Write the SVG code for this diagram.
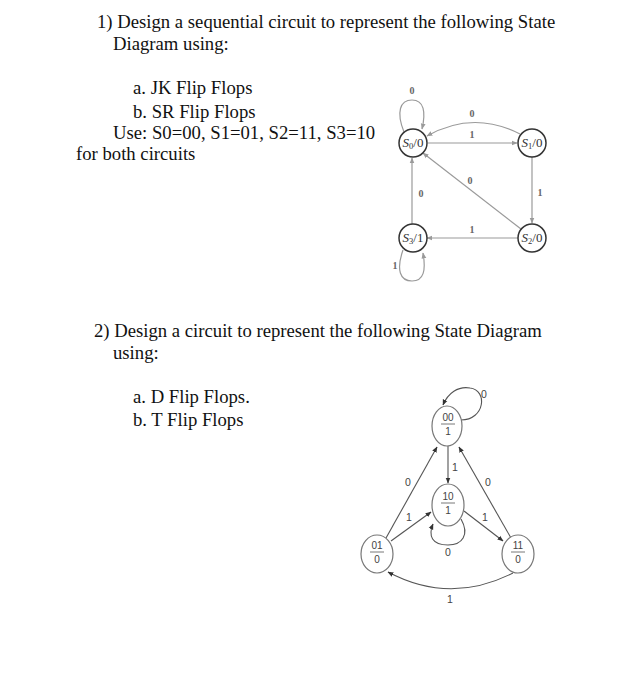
<svg xmlns="http://www.w3.org/2000/svg" width="618" height="700" viewBox="0 0 618 700">
<defs>
<style>
.t{font-family:"Liberation Serif","Times New Roman",serif;font-size:18.7px;fill:#111}
.l1{font-family:"Liberation Serif","Times New Roman",serif;font-size:10px;font-weight:bold;fill:#666;text-anchor:middle}
.st{font-family:"Liberation Serif","Times New Roman",serif;font-size:13px;fill:#333;text-anchor:middle}
.c1{fill:#fff;stroke:#333;stroke-width:1.5}
.e1{fill:none;stroke:#9a9a9a;stroke-width:1.2}
.c2{fill:#fff;stroke:#777;stroke-width:1.2}
.e2{fill:none;stroke:#555;stroke-width:1.1}
.l2{font-family:"Liberation Sans",Arial,sans-serif;font-size:10.5px;fill:#444;text-anchor:middle}
.n2{font-family:"Liberation Sans",Arial,sans-serif;font-size:10px;fill:#444;text-anchor:middle}
.bar{stroke:#555;stroke-width:0.8}
</style>
<marker id="a1" viewBox="0 0 10 10" refX="9" refY="5" markerWidth="6" markerHeight="6" orient="auto" markerUnits="userSpaceOnUse">
<path d="M0,1 L10,5 L0,9 Z" fill="#9a9a9a"/>
</marker>
<marker id="a2" viewBox="0 0 10 10" refX="9" refY="5" markerWidth="6" markerHeight="6" orient="auto" markerUnits="userSpaceOnUse">
<path d="M0,1 L10,5 L0,9 Z" fill="#333"/>
</marker>
</defs>
<rect width="618" height="700" fill="#fff"/>

<g id="text1">
<text class="t" x="97" y="28">1) Design a sequential circuit to represent the following State</text>
<text class="t" x="113" y="50">Diagram using:</text>
<text class="t" x="133" y="94">a. JK Flip Flops</text>
<text class="t" x="133" y="118">b. SR Flip Flops</text>
<text class="t" x="113" y="139">Use: S0=00, S1=01, S2=11, S3=10</text>
<text class="t" x="76" y="160">for both circuits</text>
</g>

<g id="connectors1">
<path class="e1" d="M404,132 C396,112 400,100 412,100 C424,100 426,112 422,129" marker-end="url(#a1)"/>
<path class="e1" d="M428,143 L517,143" marker-end="url(#a1)"/>
<path class="e1" d="M520,134 Q473,110 427,136" marker-end="url(#a1)"/>
<path class="e1" d="M532,157 L532,223" marker-end="url(#a1)"/>
<path class="e1" d="M521,229 L423,153" marker-end="url(#a1)"/>
<path class="e1" d="M518,238 L427,238" marker-end="url(#a1)"/>
<path class="e1" d="M412,224 L412,158" marker-end="url(#a1)"/>
<path class="e1" d="M403,250 C396,270 400,281 412,281 C424,281 426,270 423,253" marker-end="url(#a1)"/>
<text class="l1" x="412" y="94">0</text>
<text class="l1" x="472" y="117">0</text>
<text class="l1" x="472" y="138">1</text>
<text class="l1" x="540" y="196">1</text>
<text class="l1" x="470" y="184">0</text>
<text class="l1" x="472" y="233">1</text>
<text class="l1" x="421" y="197">0</text>
<text class="l1" x="395" y="269">1</text>
</g>

<g id="S0"><circle class="c1" cx="413" cy="143" r="14"/><text class="st" x="413" y="147"><tspan font-style="italic">S</tspan><tspan dy="2" font-size="8.5">0</tspan><tspan dy="-2">/0</tspan></text></g>
<g id="S1"><circle class="c1" cx="532" cy="143" r="14"/><text class="st" x="532" y="147"><tspan font-style="italic">S</tspan><tspan dy="2" font-size="8.5">1</tspan><tspan dy="-2">/0</tspan></text></g>
<g id="S2"><circle class="c1" cx="532" cy="238" r="14"/><text class="st" x="532" y="242"><tspan font-style="italic">S</tspan><tspan dy="2" font-size="8.5">2</tspan><tspan dy="-2">/0</tspan></text></g>
<g id="S3"><circle class="c1" cx="413" cy="238" r="14"/><text class="st" x="413" y="242"><tspan font-style="italic">S</tspan><tspan dy="2" font-size="8.5">3</tspan><tspan dy="-2">/1</tspan></text></g>

<g id="text2">
<text class="t" x="94" y="337">2) Design a circuit to represent the following State Diagram</text>
<text class="t" x="113" y="359">using:</text>
<text class="t" x="133" y="403">a. D Flip Flops.</text>
<text class="t" x="133" y="426">b. T Flip Flops</text>
</g>

<g id="connectors2">
<path class="e2" d="M461,420 C485,420 488,390 470,388 C458,386 448,393 443,405" marker-end="url(#a2)"/>
<path class="e2" d="M448,446 L448,483" marker-end="url(#a2)"/>
<path class="e2" d="M386,538 L437,447" marker-end="url(#a2)"/>
<path class="e2" d="M511,538 L459,447" marker-end="url(#a2)"/>
<path class="e2" d="M391,541 L431,512" marker-end="url(#a2)"/>
<path class="e2" d="M464,511 L503,541" marker-end="url(#a2)"/>
<path class="e2" d="M461,519 C470,535 462,545 448,545 C432,545 428,536 433,524" marker-end="url(#a2)"/>
<path class="e2" d="M513,573 Q450,605 388,572" marker-end="url(#a2)"/>
<text class="l2" x="484" y="398">0</text>
<text class="l2" x="455" y="471">1</text>
<text class="l2" x="408" y="486">0</text>
<text class="l2" x="488" y="486">0</text>
<text class="l2" x="409" y="521">1</text>
<text class="l2" x="485" y="521">1</text>
<text class="l2" x="448" y="556">0</text>
<text class="l2" x="450" y="603">1</text>
</g>

<g id="n00"><ellipse class="c2" cx="447" cy="426" rx="15" ry="20"/><text class="n2" x="448" y="421">00</text><line class="bar" x1="441" y1="424" x2="455" y2="424"/><text class="n2" x="448" y="435">1</text></g>
<g id="n10"><ellipse class="c2" cx="448" cy="505" rx="16" ry="21"/><text class="n2" x="448" y="500">10</text><line class="bar" x1="441" y1="503" x2="455" y2="503"/><text class="n2" x="448" y="514">1</text></g>
<g id="n01"><ellipse class="c2" cx="377" cy="554" rx="16" ry="19"/><text class="n2" x="377" y="549">01</text><line class="bar" x1="370" y1="552" x2="384" y2="552"/><text class="n2" x="377" y="563">0</text></g>
<g id="n11"><ellipse class="c2" cx="518" cy="554" rx="16" ry="19"/><text class="n2" x="518" y="549">11</text><line class="bar" x1="511" y1="552" x2="525" y2="552"/><text class="n2" x="518" y="563">0</text></g>
</svg>
